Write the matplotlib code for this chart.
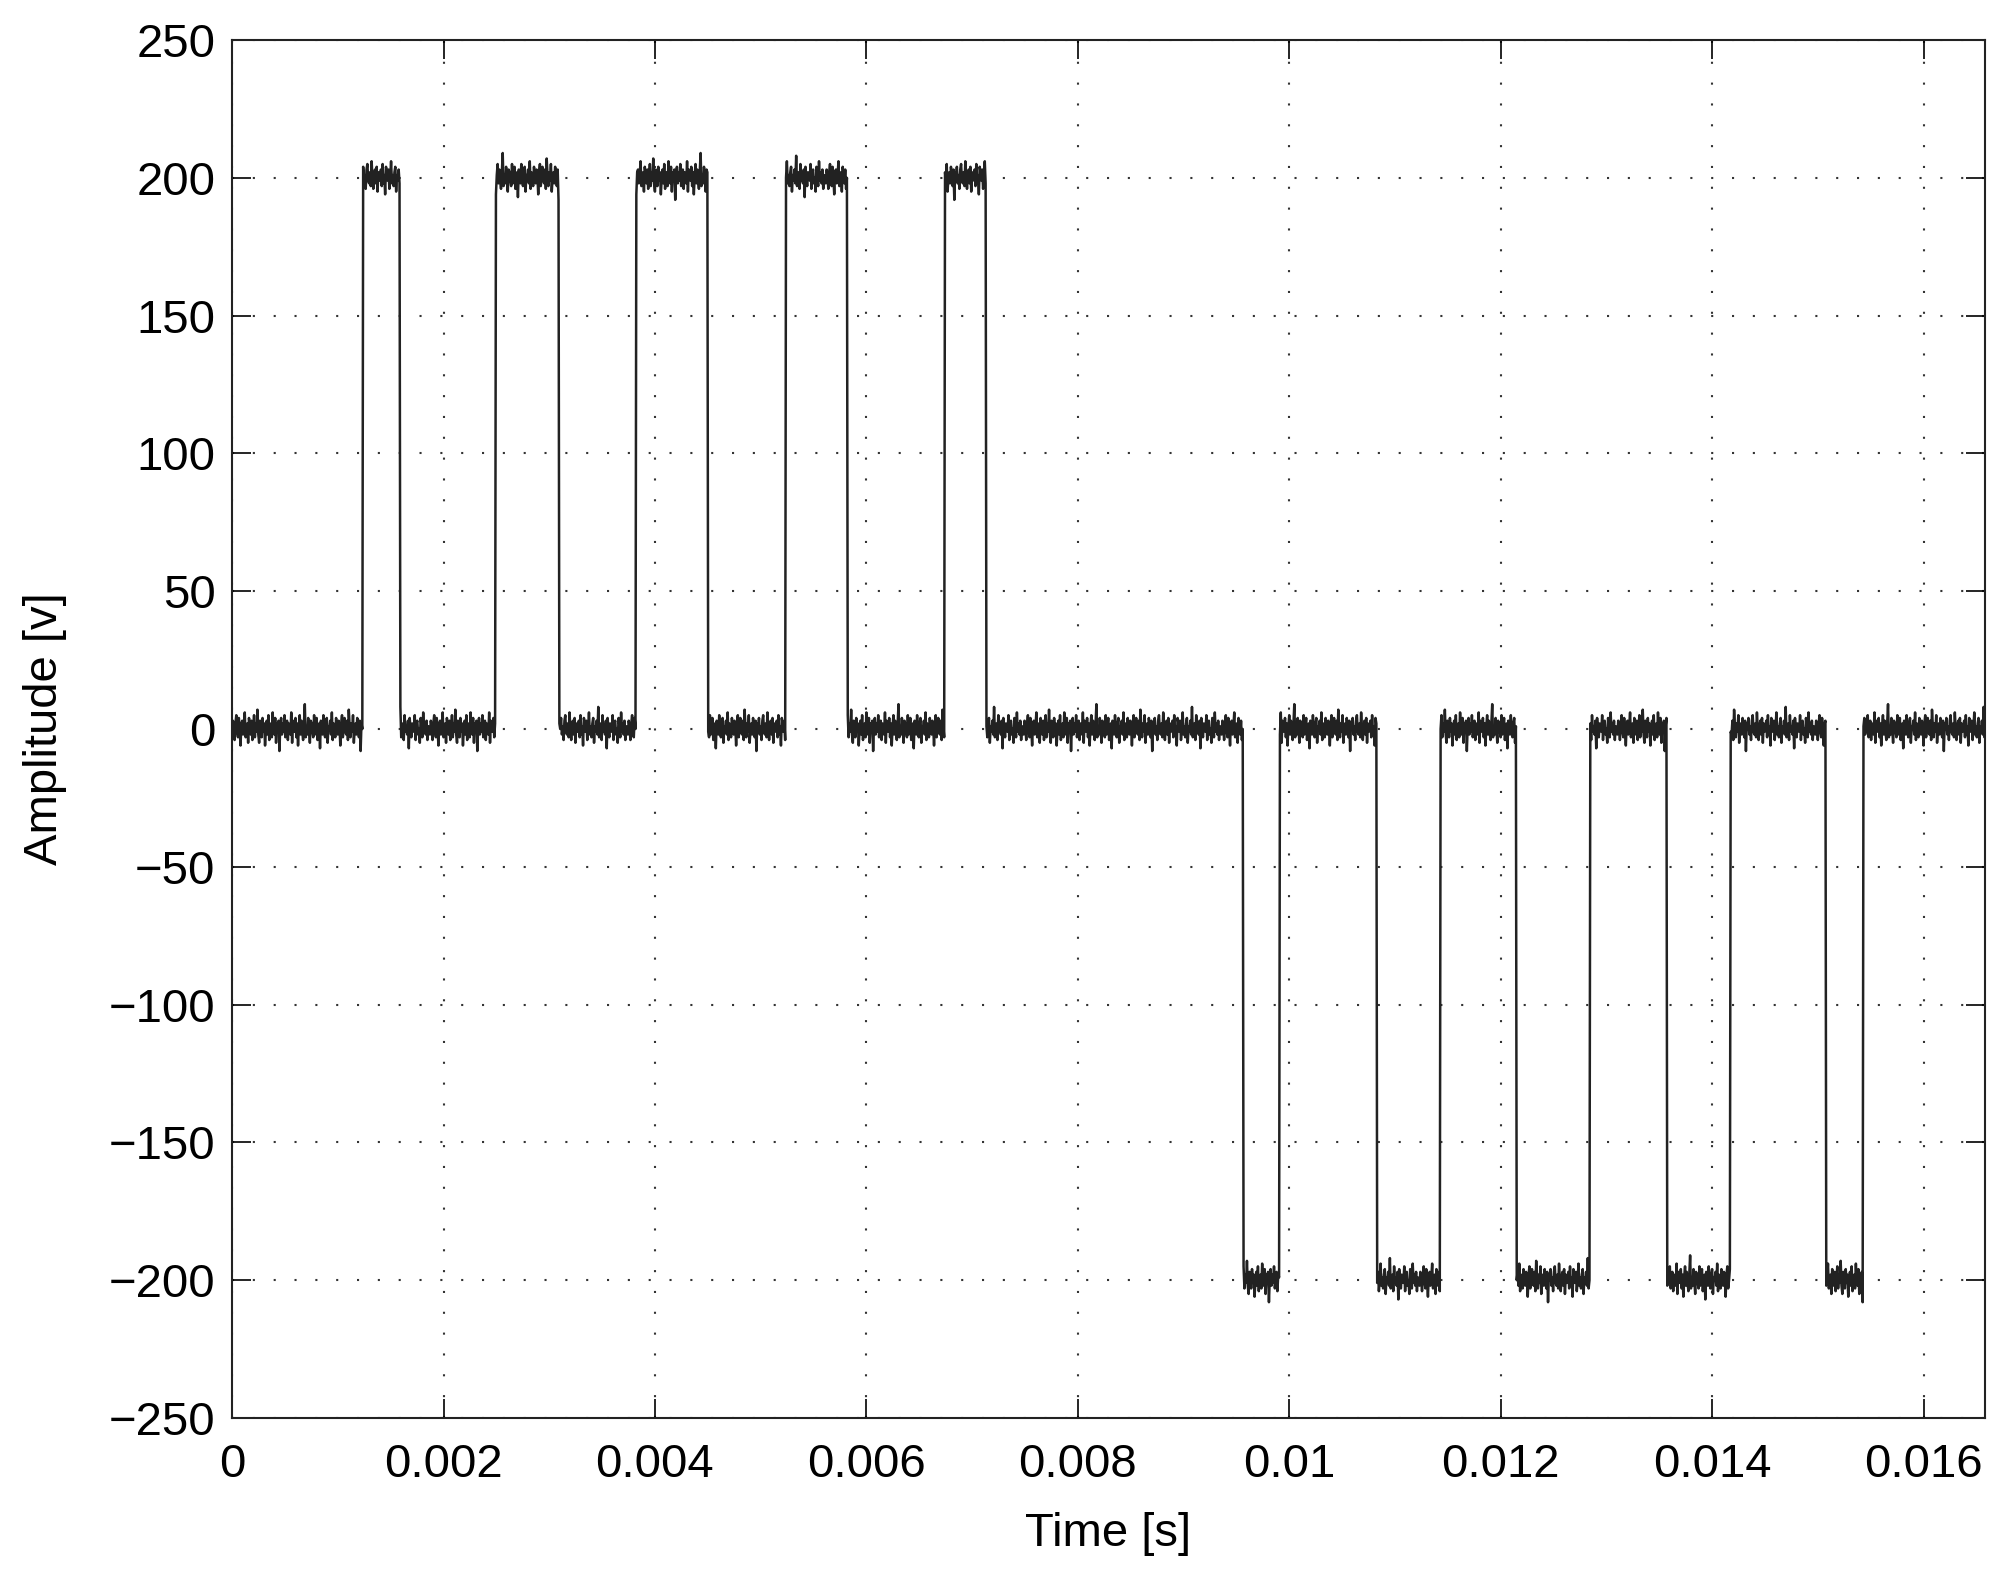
import numpy as np
import matplotlib.pyplot as plt
from matplotlib.ticker import FixedLocator, FixedFormatter

# pulse edges [s] and the level after each edge [v]
edge_times = [0.0, 0.00124, 0.00159, 0.00249, 0.00309, 0.00382, 0.00450,
              0.00524, 0.00582, 0.00674, 0.00713, 0.00956, 0.00991,
              0.01083, 0.01143, 0.01215, 0.01284, 0.01357, 0.01417,
              0.01508, 0.01543]
edge_levels = [0, 200, 0, 200, 0, 200, 0, 200, 0, 200, 0,
               -200, 0, -200, 0, -200, 0, -200, 0, -200, 0]
t_end = 0.01658
dt = 8e-6

# measurement ripple on top of the levels (estimated by eye) [v]
ripple = [-2, 3, 1, -4, 2, 5, -1, -3, 4, 0, -6, 2, 3, -2, 1, 6, -3, -1,
          2, -5, 4, 1, -2, 3, -4, 0, 5, -3, 2, -1, 7, -2, -5, 3, 1, -3,
          4, -1, 2, -6, 0, 3, -2, 5, -4, 1, 2, -3, 6, -1, -2, 4, -5, 2,
          0, 3, -8, 1, 4, -2, 2, -1, 5, -3, 0, 3, -4, 2, 1, -2, 6, -5,
          3, 0, -1, 4, -3, 2, -6, 1, 5, -2, 3, -1, -4, 2, 9, -3, 1, -2,
          4, 0, -5, 3, 2, -1, -3, 5, -2, 1, 4, -4, 0, 2, -7, 3, 1, -2,
          5, -1, -3, 2, 4, -5, 1, 0, 3, -2, 6, -4, 2, -1, -3, 4, 0, -2,
          3, 1, -6, 2, 5, -3, 0, 4, -1, -2, 3, -4, 7, 1, -3, 2, -1, 5,
          -5, 0, 2, -2, 4, 1, -3, 3, -8, 2, 0, 4, -2, 1, -4, 3, 5, -1,
          -2, 2, -3, 6, 0, -4, 1, 3, -2, 4, -5, 2, -1, 0, 3, -3, 5, -2,
          1, -6, 4, 2, -1, 3, -4, 0, 6, -2, 1, -3, 2, 4, -5, 1, -1, 3,
          -2, 8, -3, 0, 2, -4, 5, -1, 1, -2, 3, -7, 4, 0, -3, 2, 1, -1,
          5, -4, 2, 3, -2, 0, -5, 4, 1, -3, 6, -1, 2, -2, 3, -4, 1, 0]

xtick_vals = [0, 0.002, 0.004, 0.006, 0.008, 0.01, 0.012, 0.014, 0.016]
xtick_labels = ['0', '0.002', '0.004', '0.006', '0.008', '0.01', '0.012',
                '0.014', '0.016']
ytick_vals = [250, 200, 150, 100, 50, 0, -50, -100, -150, -200, -250]

t = np.arange(0, t_end + dt / 2, dt)
idx = np.searchsorted(edge_times, t, side='right') - 1
level = np.array(edge_levels)[idx]
noise = np.array(ripple)[np.arange(len(t)) % len(ripple)]
v = level + noise

plt.rcParams['font.family'] = ['Liberation Sans', 'DejaVu Sans']

fig = plt.figure(figsize=(20.11, 15.82), dpi=100)
ax = fig.add_axes([0.1154, 0.1037, 0.8716, 0.871])
ax.plot(t, v, color='#222222', lw=1.8)

ax.set_xlim(0, t_end)
ax.set_ylim(-250, 250)
ax.xaxis.set_major_locator(FixedLocator(xtick_vals))
ax.xaxis.set_major_formatter(FixedFormatter(xtick_labels))
ax.set_yticks(ytick_vals)
ax.grid(True, linestyle=(0, (1, 9)), color='#333333', lw=1.5)
ax.tick_params(direction='in', length=14, width=1.2, labelsize=34,
               top=True, right=True)
ax.tick_params(axis='x', pad=18)
ax.tick_params(axis='y', pad=12)
for s in ax.spines.values():
    s.set_linewidth(1.5)
    s.set_color('#222222')

ax.set_xlabel('Time [s]', fontsize=34, labelpad=18)
ax.set_ylabel('Amplitude [v]', fontsize=34, labelpad=30)

fig.savefig('out.png', dpi=100)
